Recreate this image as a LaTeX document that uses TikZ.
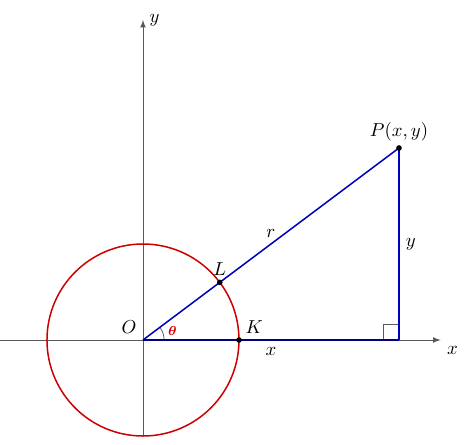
\documentclass[tikz,border=0pt]{standalone}
\begin{document}
\begin{tikzpicture}[x=1.2cm,y=1.2cm]
    \useasboundingbox (-2.234,-1.625) rectangle (5.172,5.3125);
    \draw [-latex,gray!70!black] (0,-1.5)--(0,5) node[right,text=black]{$y$};
    \draw [-latex,gray!70!black] (-2.234,0)--(4.65,0) node[below right,text=black]{$x$};

    \coordinate (O) at (0,0);
    \coordinate (K) at (1.5,0);
    \coordinate (L) at (1.2,0.9);
    \coordinate (P) at (4,3);
    \coordinate (Q) at (4,0);

    \draw [red!80!black,thick] (O) circle (1.5);
    \draw [gray!70!black] (0.33,0) arc (0:36.87:0.33);
    \node [red!80!black,font=\scriptsize\boldmath] (theta) at (0.46,0.14) {$\theta$};
    \draw [gray!70!black] (3.75,0)--(3.75,0.25)--(4,0.25);

    \draw [blue!75!black,thick] (O)--(P) node[midway,above,text=black] {$r$};
    \draw [blue!75!black,thick] (P)--(Q) node[midway,right,text=black] {$y$};
    \draw [blue!50!black,thick] (O)--(Q) node[midway,below,text=black] {$x$};

    \fill (K) circle (1.5pt) node[above right] {$K$};
    \fill (L) circle (1.5pt) node[above] {$L$};
    \fill (P) circle (1.5pt) node[above] {$P(x,y)$};
    \node [above left] at (O) {$O$};
        \end{tikzpicture}
\end{document}
